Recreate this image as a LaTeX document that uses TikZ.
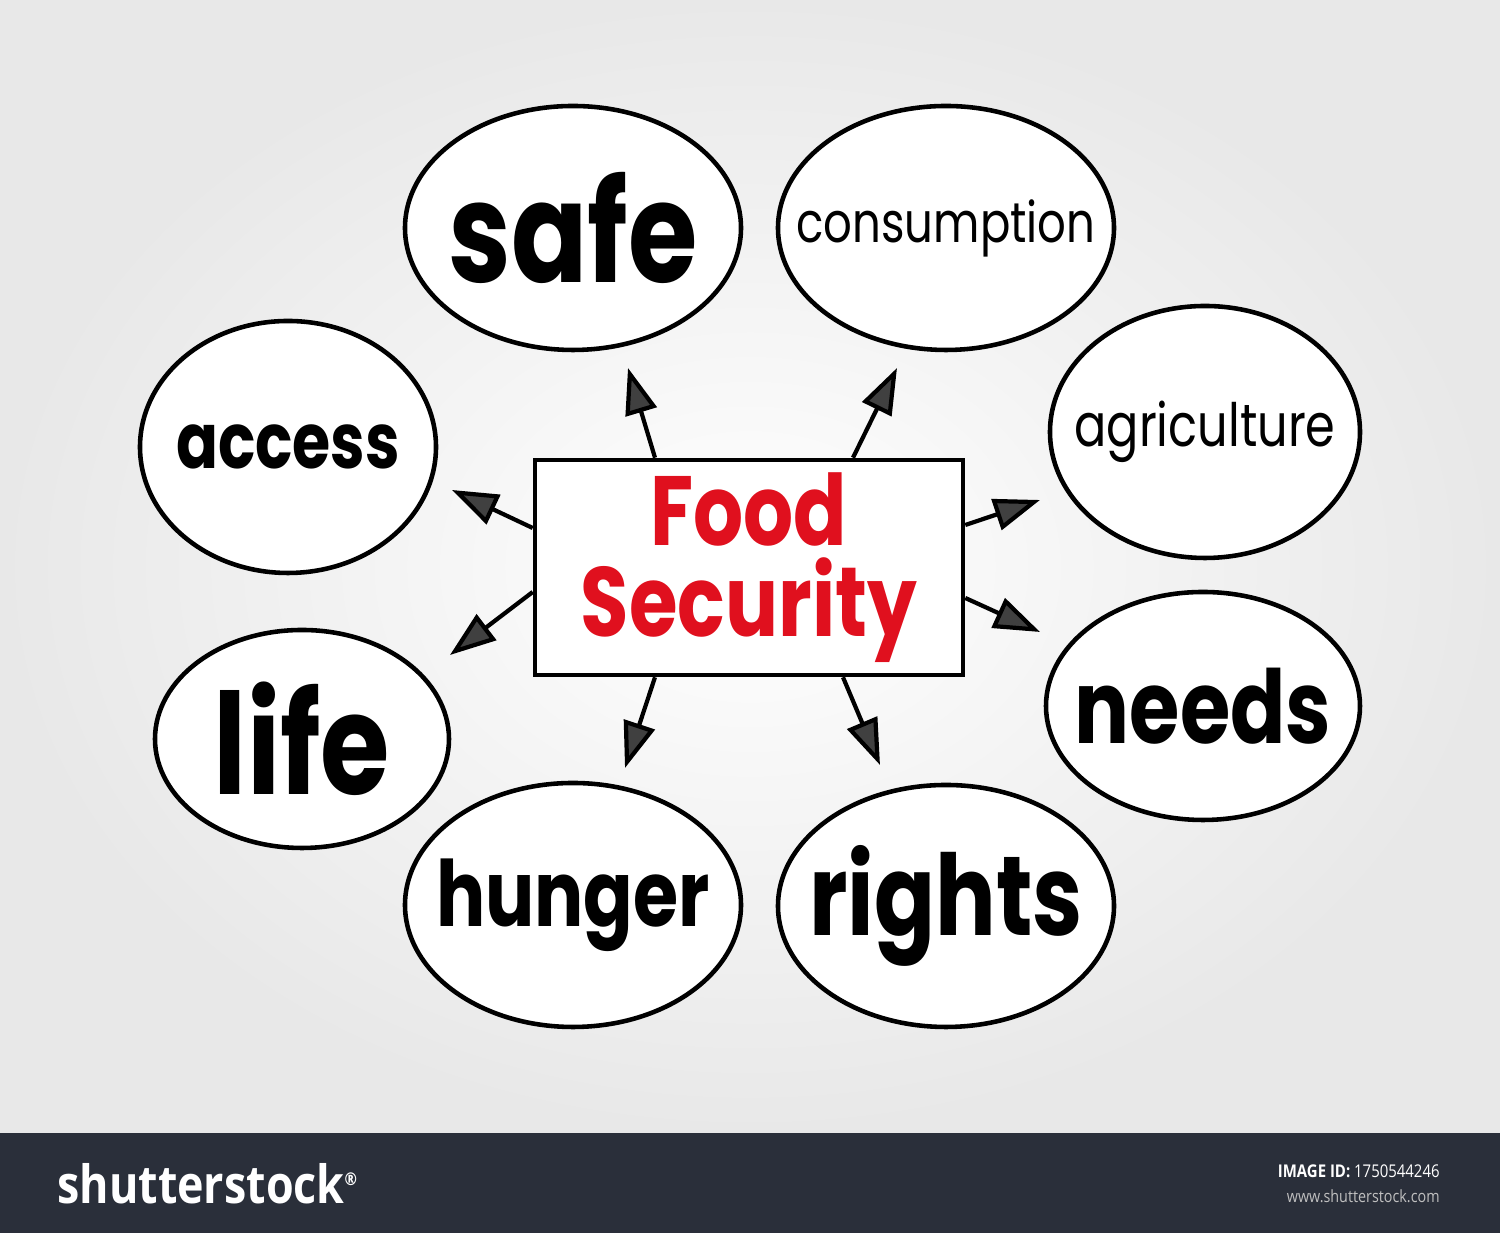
\documentclass[tikz,border=0pt]{standalone}
\usepackage{fontspec}
\setmainfont{Poppins}
\newfontfamily\handfont[FakeStretch=0.8]{Poppins}
\newfontfamily\footfont[FakeStretch=0.85]{Open Sans}
\usetikzlibrary{shapes.geometric,arrows.meta,calc}
\definecolor{footbar}{HTML}{2A2F3A}
\definecolor{foodred}{HTML}{E0101E}

\begin{document}
\begin{tikzpicture}[
	bubble/.style={ellipse,draw=black,line width=1.3pt,fill=white,inner sep=0pt},
	hub/.style={rectangle,draw=black,line width=1.3pt,fill=white,inner sep=0pt,minimum width=4.28cm,minimum height=2.15cm},
	arr/.style={line width=1.2pt,-{Triangle[length=4.6mm,width=3.2mm,fill=black!75]}}]
	\def\largeur{15}
	\def\hauteur{12.33}
\useasboundingbox (0,0) rectangle (\largeur,\hauteur);
\shade[inner color=white,outer color=black!9] (0,1) rectangle (\largeur,\hauteur);

%Bandeau du bas
\fill[footbar] (0,0) rectangle (\largeur,1);
\node[anchor=west,text=white,font=\footfont\bfseries\fontsize{15}{15}\selectfont] (logo) at (0.45,0.49) {shutterstock\textsuperscript{\tiny ®}};
\node[anchor=east,text=white,font=\footfont\fontsize{5}{6}\selectfont] (imgid) at (14.52,0.62) {\textbf{IMAGE ID:} 1750544246};
\node[anchor=east,text=black!25,font=\footfont\fontsize{4.8}{6}\selectfont] (www) at (14.52,0.37) {www.shutterstock.com};

%Noeud central
\node[hub,label={[align=center,text=foodred,font=\handfont\bfseries\fontsize{28}{26}\selectfont]center:Food\\Security}] (fs) at (7.49,6.655) {};

%Bulles
\node[bubble,minimum width=3.36cm,minimum height=2.44cm,label={[font=\handfont\bfseries\fontsize{40}{40}\selectfont]center:safe}] (safe) at (5.73,10.05) {};
\node[bubble,minimum width=3.36cm,minimum height=2.44cm,label={[font=\handfont\fontsize{16}{16}\selectfont]center:consumption}] (consumption) at (9.46,10.05) {};
\node[bubble,minimum width=2.96cm,minimum height=2.52cm,label={[font=\handfont\bfseries\fontsize{22}{22}\selectfont]center:access}] (access) at (2.88,7.86) {};
\node[bubble,minimum width=3.10cm,minimum height=2.52cm,label={[font=\handfont\fontsize{17}{17}\selectfont]center:agriculture}] (agriculture) at (12.05,8.01) {};
\node[bubble,minimum width=2.94cm,minimum height=2.18cm,label={[font=\handfont\bfseries\fontsize{40}{40}\selectfont]center:life}] (life) at (3.02,4.94) {};
\node[bubble,minimum width=3.14cm,minimum height=2.28cm,label={[font=\handfont\bfseries\fontsize{29}{29}\selectfont]center:needs}] (needs) at (12.03,5.27) {};
\node[bubble,minimum width=3.36cm,minimum height=2.44cm,label={[font=\handfont\bfseries\fontsize{26}{26}\selectfont]center:hunger}] (hunger) at (5.73,3.28) {};
\node[bubble,minimum width=3.36cm,minimum height=2.42cm,label={[font=\handfont\bfseries\fontsize{32}{32}\selectfont]center:rights}] (rights) at (9.46,3.27) {};

%Pointes des fleches
\coordinate (tsafe) at (6.28,8.65);
\coordinate (tconsumption) at (8.97,8.65);
\coordinate (taccess) at (4.52,7.43);
\coordinate (tagriculture) at (10.40,7.33);
\coordinate (tlife) at (4.50,5.78);
\coordinate (tneeds) at (10.40,6.01);
\coordinate (thunger) at (6.25,4.65);
\coordinate (trights) at (8.80,4.68);

%Fleches
\draw[arr] ($(fs.north)+(-0.94,0)$) -- (tsafe);
\draw[arr] ($(fs.north)+(1.04,0)$) -- (tconsumption);
\draw[arr] ($(fs.west)+(0,0.395)$) -- (taccess);
\draw[arr] ($(fs.east)+(0,0.425)$) -- (tagriculture);
\draw[arr] ($(fs.west)+(0,-0.245)$) -- (tlife);
\draw[arr] ($(fs.east)+(0,-0.305)$) -- (tneeds);
\draw[arr] ($(fs.south)+(-0.94,0)$) -- (thunger);
\draw[arr] ($(fs.south)+(0.94,0)$) -- (trights);

\end{tikzpicture}
\end{document}
